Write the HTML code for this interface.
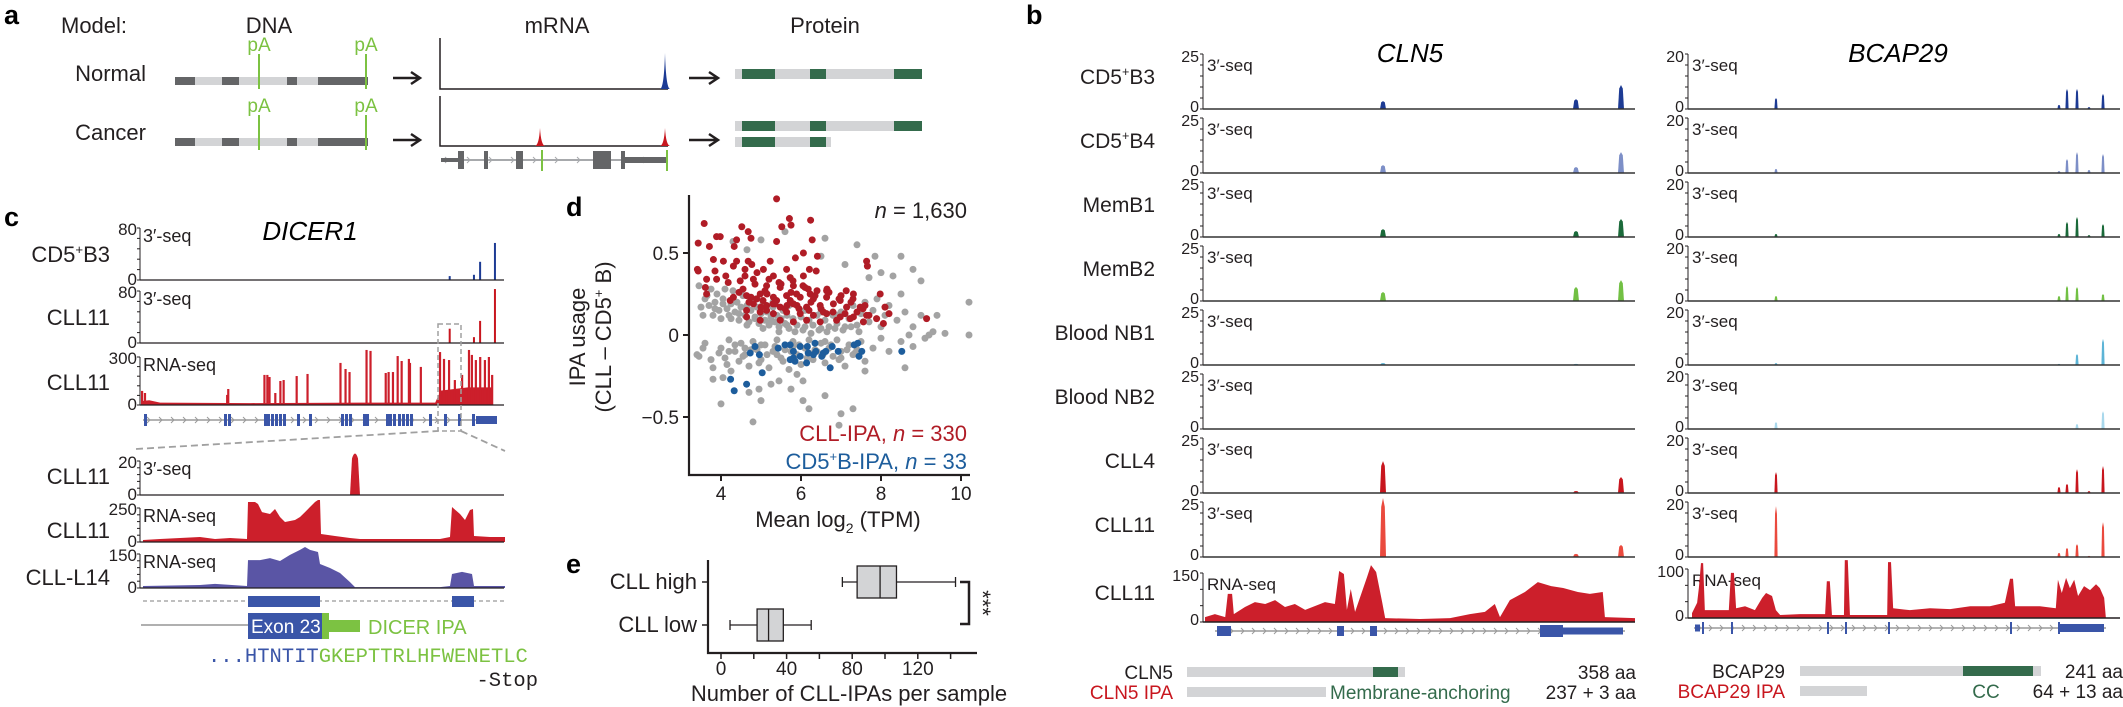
<!DOCTYPE html>
<html><head><meta charset="utf-8"><title>IPA figure</title>
<style>
html,body{margin:0;padding:0;background:#fff;}
svg{display:block;font-family:"Liberation Sans",Arial,sans-serif;}
</style></head>
<body>
<svg id="fig" width="2123" height="707" viewBox="0 0 2123 707" xmlns="http://www.w3.org/2000/svg">
<text x="4" y="24" font-size="27" font-weight="bold">a</text>
<text x="1026" y="24" font-size="27" font-weight="bold">b</text>
<text x="4" y="226" font-size="27" font-weight="bold">c</text>
<text x="566" y="216" font-size="27" font-weight="bold">d</text>
<text x="566" y="573" font-size="27" font-weight="bold">e</text>

<g font-size="22" fill="#231f20">
<text x="61" y="33">Model:</text>
<text x="269" y="33" text-anchor="middle">DNA</text>
<text x="557" y="33" text-anchor="middle">mRNA</text>
<text x="825" y="33" text-anchor="middle">Protein</text>
<text x="146" y="81" text-anchor="end">Normal</text>
<text x="146" y="140" text-anchor="end">Cancer</text>
</g>
<g id="panelA"></g>

<text x="1410" y="62" font-size="26" font-style="italic" text-anchor="middle">CLN5</text>
<text x="1898" y="62" font-size="26" font-style="italic" text-anchor="middle">BCAP29</text>
<g id="panelB"></g>

<text x="310" y="240" font-size="26" font-style="italic" text-anchor="middle">DICER1</text>
<g id="panelC"></g>

<g id="panelD"></g>
<g id="panelE"></g>
</svg>

<script>
// ================= DATA =================
const redX=[5.39,3.58,5.71,5.75,6.24,4.52,4.68,5.52,3.43,3.71,3.89,3.98,4.39,4.75,4.33,5.39,6.28,6.06,6.41,7.64,7.66,3.41,3.43,3.64,3.61,3.81,4.06,4.39,4.68,4.77,5.23,5.86,6.21,5.64,3.85,4.12,4.31,4.60,5.06,5.31,5.73,6.06,6.38,3.89,4.18,4.48,4.81,5.14,5.48,5.81,6.18,6.64,7.13,7.31,7.98,3.64,4.31,4.64,4.98,5.31,5.64,5.98,6.31,6.64,6.98,4.23,4.81,5.14,5.48,5.81,6.14,6.48,6.81,7.14,7.48,8.10,4.64,4.98,5.31,5.64,5.98,6.31,6.64,6.98,7.31,7.64,7.89,8.2,9.14,5.48,5.81,6.14,6.48,6.89,7.23,7.56,8.06,4.98,4.64,4.89,5.1,5.39,5.73,5.89,6.23,6.56,5.14];
const redY=[0.83,0.68,0.71,0.67,0.70,0.66,0.63,0.66,0.56,0.54,0.60,0.60,0.58,0.59,0.54,0.57,0.58,0.50,0.48,0.45,0.42,0.40,0.39,0.34,0.29,0.46,0.45,0.45,0.45,0.43,0.45,0.47,0.40,0.40,0.39,0.36,0.42,0.40,0.40,0.36,0.35,0.36,0.39,0.34,0.32,0.33,0.34,0.30,0.29,0.30,0.28,0.27,0.27,0.25,0.25,0.25,0.23,0.24,0.25,0.23,0.24,0.23,0.22,0.23,0.21,0.21,0.19,0.18,0.17,0.19,0.17,0.18,0.19,0.17,0.17,0.17,0.15,0.14,0.13,0.14,0.13,0.12,0.13,0.11,0.11,0.12,0.10,0.13,0.10,0.09,0.08,0.09,0.08,0.09,0.10,0.08,0.07,0.09,0.11,0.22,0.27,0.21,0.21,0.25,0.25,0.14,0.15];
const redX2=[4.55,4.7,4.85,5.0,5.15,5.3,5.45,5.6,5.75,5.9,6.05,6.2,6.35,6.5,6.65,6.8,6.95,7.1,7.25,7.4,7.55,7.7,4.6,4.9,5.2,5.5,5.8,6.1,6.4,6.7,7.0,7.3,7.6,4.45,4.75,5.05,5.35,5.65,5.95,6.25];
const redY2=[0.28,0.20,0.31,0.17,0.25,0.19,0.32,0.16,0.26,0.18,0.30,0.15,0.24,0.16,0.28,0.14,0.22,0.13,0.20,0.14,0.16,0.12,0.36,0.38,0.34,0.31,0.33,0.29,0.27,0.26,0.24,0.22,0.18,0.26,0.23,0.21,0.19,0.18,0.16,0.20];
const blueX=[4.24,4.33,4.64,4.73,4.96,5.03,5.6,5.73,5.81,5.85,5.98,6.14,6.16,6.18,6.35,6.37,6.52,6.56,6.62,6.73,6.78,6.93,7.33,7.42,7.45,7.52,8.52,5.73,5.98,5.43,4.85,6.31,5.81];
const blueY=[-0.27,-0.34,-0.30,-0.11,-0.12,-0.23,-0.06,-0.06,-0.14,-0.16,-0.13,-0.17,-0.07,-0.11,-0.05,-0.10,-0.13,-0.11,-0.10,-0.20,-0.07,-0.10,-0.06,-0.05,-0.13,-0.10,-0.10,-0.15,-0.07,-0.08,-0.07,-0.12,-0.10];
const grayX=[3.45,3.5,3.55,3.6,3.7,3.75,3.8,3.85,3.9,3.95,4.0,4.05,4.1,4.15,4.2,4.25,4.3,4.35,4.4,4.45,4.5,4.55,4.6,4.65,4.7,4.75,4.8,4.85,4.9,4.95,5.0,5.05,5.1,5.15,5.2,5.25,5.3,5.35,5.4,5.45,5.5,5.55,5.6,5.65,5.7,5.8,5.9,6.0,6.1,6.2,6.3,6.4,6.5,6.6,6.7,6.8,6.9,7.0,7.1,7.2,7.3,7.4,7.5,7.6,7.7,7.8,7.9,8.0,8.1,8.2,8.4,8.6,8.8,9.0,9.3,9.6,10.2,10.2,
4.3,4.65,5.0,5.6,6.6,7.4,7.85,8.5,8.8,8.3,9.0,8.5,7.1,6.5,7.7,9.4,8.7,8.0,
3.4,3.6,3.8,4.0,4.1,4.2,4.25,4.35,4.45,4.5,4.6,4.7,4.8,4.9,5.0,5.1,5.2,5.3,5.4,5.5,5.6,5.7,5.8,5.9,6.0,6.1,6.2,6.3,6.4,6.5,6.6,6.7,6.8,6.9,7.0,7.1,7.2,7.3,7.5,7.6,7.8,8.0,8.2,8.5,8.8,9.2,4.05,5.25,6.05,
3.45,3.8,4.0,4.95,5.45,5.0,5.75,6.05,6.2,6.6,7.0,7.3,6.95,4.8,7.6,8.6,9.1,5.9,4.7,
4.5,4.9,5.3,5.7,6.1,6.5,6.9,4.2,4.6,5.0,5.4,5.8,6.2,6.6,7.0,7.4];
const grayY=[0.30,0.17,0.12,0.22,0.18,0.28,0.12,0.20,0.25,0.15,0.10,0.22,0.28,0.16,0.12,0.19,0.27,0.14,0.20,0.09,0.17,0.24,0.12,0.18,0.08,0.15,0.22,0.11,0.17,0.07,0.13,0.19,0.09,0.14,0.06,0.11,0.17,0.08,0.12,0.05,0.10,0.15,0.07,0.12,0.04,0.10,0.06,0.11,0.05,0.09,0.06,0.12,0.04,0.09,0.05,0.12,0.07,0.14,0.05,0.10,0.18,0.06,0.13,0.20,0.08,0.15,0.22,0.05,0.12,0.18,0.09,0.14,0.05,0.12,0.02,0.01,0.20,0.00,
0.57,0.52,0.58,0.63,0.59,0.55,0.48,0.48,0.40,0.36,0.33,0.25,0.43,0.48,0.35,0.12,0.00,0.38,
-0.12,-0.05,-0.20,-0.08,-0.14,-0.03,-0.22,-0.10,-0.16,-0.05,-0.12,-0.19,-0.04,-0.09,-0.15,-0.06,-0.20,-0.10,-0.03,-0.14,-0.09,-0.21,-0.04,-0.12,-0.18,-0.08,-0.03,-0.15,-0.10,-0.05,-0.17,-0.08,-0.13,-0.03,-0.10,-0.19,-0.06,-0.12,-0.04,-0.16,-0.08,-0.02,-0.10,-0.04,-0.07,0.00,-0.26,-0.30,-0.28,
-0.13,-0.27,-0.42,-0.33,-0.28,-0.40,-0.33,-0.40,-0.45,-0.37,-0.48,-0.45,-0.55,-0.53,-0.22,-0.20,-0.02,-0.24,-0.35,
0.26,0.22,0.20,0.18,0.15,0.14,0.12,-0.10,-0.08,-0.06,-0.12,-0.07,-0.11,-0.04,-0.14,-0.09];
const grayX2=[3.55,3.75,3.95,4.15,4.35,4.55,4.75,4.95,5.15,5.35,5.55,5.75,5.95,6.15,6.35,6.55,6.75,6.95,7.15,7.35,3.65,3.85,4.05,4.25,4.45,4.65,4.85,5.05,5.25,5.45,5.65,5.85,6.05,6.25,6.45,6.65,6.85,7.05,7.25,7.45];
const grayY2=[-0.08,-0.15,-0.11,-0.18,-0.06,-0.13,-0.09,-0.17,-0.12,-0.07,-0.16,-0.10,-0.06,-0.14,-0.09,-0.12,-0.06,-0.15,-0.09,-0.11,0.24,0.16,0.19,0.10,0.13,0.06,0.10,0.04,0.08,0.02,0.06,0.02,0.03,0.01,0.03,0.02,0.04,0.03,0.05,0.02];
const dXTicks=[4,6,8,10];
const dYTicks=[0.5,0,-0.5];
const dYTickLabels=['0.5','0','\u22120.5'];

const eCategories=['CLL high','CLL low'];
const eWhiskerLo=[74,5.5];
const eQ1=[83,22];
const eMedian=[97,29];
const eQ3=[107,38];
const eWhiskerHi=[143,55];
const eTicks=[0,20,40,60,80,100,120,140];
const eTickLabels=['0','','40','','80','','120',''];

const bSamples=['CD5+B3','CD5+B4','MemB1','MemB2','Blood NB1','Blood NB2','CLL4','CLL11'];
const cln5PeakPos=[178,371,416];
const cln5Heights=[[3.6,4.5,10.9],[3.6,2.7,9.5],[3.6,2.7,8.2],[4.1,6.4,9.5],[0.9,0.5,0.2],[0.2,0.2,0.2],[14.5,0.9,7.3],[26.8,1.4,5.5]];
const bcapPeakPos=[84,367,375,385,397,411];
const bcapHeights=[[4,1.5,7.3,7.3,0.7,5.5],[1.5,0.7,5.1,7.6,1.1,6.9],[1.1,1.1,5.5,7.3,0.7,4.7],[1.8,1.8,5.5,5.1,0,2.5],[0.7,0.4,0,4,0,9.5],[2.5,0,0,1.8,0,6.5],[7.6,2.2,3.3,8.7,0.7,9.8],[18.5,1.5,3.3,4.7,0.4,12.7]];
const cln5CovPos=[0,2.3,4.7,5.3,6.3,6.7,9.3,11.6,14,16.3,18.6,20.9,23.3,25.6,27.9,30.2,31.2,32.3,33,33.9,34.9,37.7,38.6,39.8,41.2,41.9,50,57,61.6,65.1,67.4,68.6,70.9,74.4,77.4,80.5,83.3,86.7,89.5,92.5,93,100];
const cln5CovVal=[15,24,15,86,86,24,46,61,55,67,46,55,37,49,61,55,156,147,37,101,31,138,174,153,61,12,9,12,24,31,55,15,67,92,122,110,104,92,86,92,15,12];
const bcapCovPos=[0,1.2,1.6,2.1,2.6,3.0,5.4,8.6,9.1,9.8,10.3,12.4,14.7,16.4,17.3,18.7,19.6,20.6,25.2,31.1,31.5,32.2,32.7,35.5,35.7,36.4,36.9,39.3,45.6,45.8,46.5,47.0,50.9,55.6,60.3,65.0,69.6,73.1,74.3,75.0,75.5,81.3,85.0,85.5,86.4,87.4,88.3,89.3,90.2,91.6,93.0,94.4,95.3,96.3,96.7,100];
const bcapCovVal=[10,31,61,112,112,16,16,16,92,92,20,24,16,41,51,45,16,6,8,8,75,75,6,6,118,118,6,6,6,114,114,20,16,20,18,24,24,31,80,80,24,24,20,78,51,82,61,78,45,65,57,69,61,41,0,0];

const dicerCd5Pos=[85.0,91.7,93.4,97.5];
const dicerCd5Val=[6,8,28,57];
const dicerCll11Val=[22,9,34,83];
const dicerSpikePos=[0,0.8,23.5,23.8,33.8,34.6,35.2,36.8,38.2,39.1,42.7,45.7,54.8,56.2,57.3,62.0,63.1,67.3,68.1,69.3,70.6,71.7,73.7,74.0,77.0,82.3,83.4,84.8,86.4,88.4,90.3,91.1,92.2,93.4,94.7,95.8,96.7];
const dicerSpikeVal=[88,75,63,100,188,188,175,75,150,156,181,194,263,225,206,344,338,200,206,206,306,275,288,263,238,331,288,281,156,188,344,313,281,300,281,300,188];
const dicerBgPos=[0,2,5,30,60,81,82.5,90,96.5,97,100];
const dicerBgVal=[25,30,15,12,15,15,90,110,110,0,0];
const zoomCllPos=[0,17,37,57,72,87,104,105,112,115,119,127,132,137,142,152,157,162,167,172,175,177,178,192,207,217,257,297,307,309,317,322,327,330,331,347,362];
const zoomCllVal=[15,22,29,37,22,29,22,294,294,279,220,206,243,184,147,162,184,220,257,294,309,309,59,44,29,22,22,22,37,257,206,162,235,243,44,37,37];
const zoomL14Pos=[0,57,72,104,105,117,127,137,147,157,162,167,175,177,187,197,207,212,257,297,307,309,319,329,331,362];
const zoomL14Val=[9,13,18,9,123,123,132,119,146,168,181,168,159,106,88,66,26,4,4,4,9,62,71,62,9,9];
const zoomPeakPos=212;
const zoomPeakVal=25;

// ================= HELPERS =================
const NS='http://www.w3.org/2000/svg';
function mk(tag,attrs,parent){const e=document.createElementNS(NS,tag);for(const k in attrs)e.setAttribute(k,attrs[k]);parent.appendChild(e);return e;}
function txt(x,y,s,attrs,parent){const e=mk('text',Object.assign({x:x,y:y},attrs),parent);e.textContent=s;return e;}
function supLabel(x,y,s,attrs,parent){
  const e=mk('text',Object.assign({x:x,y:y},attrs),parent);
  const parts=s.split('+');
  parts.forEach((p,i)=>{
    if(i>0){const t=mk('tspan',{dy:-8,'font-size':'0.6em'},e);t.textContent='+';const t2=mk('tspan',{dy:8},e);t2.textContent=p;}
    else{const t=mk('tspan',{},e);t.textContent=p;}
  });
  return e;
}
function chevrons(x0,x1,y,step,parent,color){
  let d='';for(let x=x0+6;x<x1-4;x+=step){d+=`M${x-2},${y-3}L${x+1},${y}L${x-2},${y+3}`;}
  return mk('path',{d:d,stroke:color||'#9a9a9a','stroke-width':1,fill:'none'},parent);
}

// ================= PANEL A =================
(function(){
  const g=document.getElementById('panelA');
  const dark='#646567',light='#d3d4d6',green='#7cc242',pg='#346b4c';
  const dnaSegs=[[175,195,dark],[195,222,light],[222,239,dark],[239,287,light],[287,297,dark],[297,318,light],[318,368,dark]];
  [81,142].forEach((cy,ri)=>{
    dnaSegs.forEach(s=>{const r=mk('rect',{x:s[0],y:cy-4,width:s[1]-s[0],height:8,fill:s[2]},g);
      
      });
    [259,366].forEach(px=>{
      const l=mk('line',{x1:px,x2:px,y1:cy-27,y2:cy+8,stroke:green,'stroke-width':2},g);
      
      
      const t=txt(px,cy-30,'pA',{fill:green,'font-size':19,'text-anchor':'middle'},g);
      
      
    });
  });
  [[393,420,78],[393,420,140],[689,718,78],[689,718,140]].forEach(a=>{
    const p=mk('path',{d:`M${a[0]},${a[2]}L${a[1]-2},${a[2]}M${a[1]-9},${a[2]-6}L${a[1]},${a[2]}L${a[1]-9},${a[2]+6}`,stroke:'#231f20','stroke-width':2.5,fill:'none'},g);
    
    
  });
  const mN=mk('path',{d:'M440,38L440,89L668,89',stroke:'#231f20','stroke-width':1.5,fill:'none'},g);
  
  
  const pk1=mk('path',{d:'M660,89Q664,88 665,53Q666,88 670,89Z',fill:'#1d3b94'},g);
  
  
  const mC=mk('path',{d:'M440,96L440,146L668,146',stroke:'#231f20','stroke-width':1.5,fill:'none'},g);
  
  
  [540,665].forEach(px=>{const p=mk('path',{d:`M${px-5},146Q${px-1},145 ${px},128Q${px+1},145 ${px+5},146Z`,fill:'#c8161e'},g);
    
    });
  const gl=mk('line',{x1:441,x2:668,y1:160,y2:160,stroke:'#a7a9ac','stroke-width':2},g);
  
  
  chevrons(441,668,160,22,g,'#a7a9ac');
  [[441,458,4],[458,464,18],[484,488,18],[516,523,18],[593,611,18],[621,625,18],[625,667,6]].forEach(e=>{
    const r=mk('rect',{x:e[0],y:160-e[2]/2,width:e[1]-e[0],height:e[2],fill:dark},g);
    
    });
  [542,667].forEach(px=>{const l=mk('line',{x1:px,x2:px,y1:150,y2:171,stroke:green,'stroke-width':2},g);
    
    });
  const full=[[735,742,light],[742,775,pg],[775,810,light],[810,826,pg],[826,894,light],[894,922,pg]];
  const trunc=[[735,742,light],[742,775,pg],[775,810,light],[810,826,pg],[826,831,light]];
  [[74,full],[126,full],[142,trunc]].forEach(row=>{
    row[1].forEach(s=>{const r=mk('rect',{x:s[0],y:row[0]-5,width:s[1]-s[0],height:10,fill:s[2]},g);
      
      });
  });
})();

// ================= PANEL B =================
(function(){
  const g=document.getElementById('panelB');
  const colors=['#1d3b94','#7d8fc7','#1b6a3a','#72c044','#5db4d6','#a9d8ec','#c8161e','#ea4a3e'];
  const genes=[
    {name:'cln5',axis:1203,x0:1205,x1:1635,dom:430,max:25,pos:cln5PeakPos,h:cln5Heights,w:3,covPos:cln5CovPos,covVal:cln5CovVal,covMax:150,covLabel:'150'},
    {name:'bcap29',axis:1688,x0:1692,x1:2120,dom:428,max:20,pos:bcapPeakPos,h:bcapHeights,w:1.6,covPos:bcapCovPos,covVal:bcapCovVal,covMax:100,covLabel:'100'}
  ];
  bSamples.forEach((s,i)=>{
    const base=109+64*i;
    const lab=supLabel(1155,base-25,s,{'font-size':21,'text-anchor':'end',fill:'#231f20'},g);
    
    
  });
  const rl=txt(1155,600,'CLL11',{'font-size':21,'text-anchor':'end',fill:'#231f20'},g);
  
  
  genes.forEach(G=>{
    const xs=v=>G.x0+v/G.dom*(G.x1-G.x0);
    bSamples.forEach((s,i)=>{
      const base=109+64*i, top=base-55;
      const ys=v=>base-v/G.max*55;
      const ax=mk('line',{x1:G.axis,x2:G.axis,y1:top,y2:base,stroke:'#231f20','stroke-width':1},g);
      
      
      for(let k=0;k<=5;k++){const tk=mk('line',{x1:G.axis-3,x2:G.axis,y1:top+k*11,y2:top+k*11,stroke:'#231f20','stroke-width':1},g);
        
        }
      const t1=txt(G.axis-4,top+8,String(G.max),{'font-size':16,'text-anchor':'end',fill:'#231f20'},g);
      
      
      const t0=txt(G.axis-4,base+3,'0',{'font-size':16,'text-anchor':'end',fill:'#231f20'},g);
      
      
      const tl=txt(G.axis+4,top+17,'3\u2032-seq',{'font-size':17,fill:'#231f20'},g);
      
      
      G.pos.forEach((p,j)=>{
        const v=G.h[i][j]; if(v<=0) return;
        const x=xs(p), y=ys(v), w=G.w;
        const pk=mk('path',{d:`M${x-w},${base}L${x-w*0.6},${y+(base-y)*0.15}L${x},${y}L${x+w*0.6},${y+(base-y)*0.15}L${x+w},${base}Z`,fill:colors[i]},g);
        
        
      });
      const bl=mk('line',{x1:G.axis,x2:G.x1,y1:base,y2:base,stroke:'#333','stroke-width':1.5},g);
      
      
    });
    const base=G.name==='cln5'?622:618, top=base-49;
    const ys=v=>base-v/G.covMax*49;
    const ax=mk('line',{x1:G.axis,x2:G.axis,y1:top,y2:base,stroke:'#231f20','stroke-width':1},g);
    
    
    for(let k=0;k<=3;k++){const tk=mk('line',{x1:G.axis-3,x2:G.axis,y1:top+k*49/3,y2:top+k*49/3,stroke:'#231f20'},g);
      
      }
    const tm=txt(G.axis-4,top+8,G.covLabel,{'font-size':16,'text-anchor':'end',fill:'#231f20'},g);
    
    
    const tz=txt(G.axis-4,base+3,'0',{'font-size':16,'text-anchor':'end',fill:'#231f20'},g);
    
    
    const tt=txt(G.axis+4,top+17,'RNA-seq',{'font-size':17,fill:'#231f20'},g);
    
    
    const cx=v=>G.x0+v/100*(G.x1-G.x0);
    let d=`M${cx(G.covPos[0])},${base}`;
    G.covPos.forEach((p,k)=>{d+=`L${cx(p)},${ys(G.covVal[k])}`;});
    d+=`L${cx(G.covPos[G.covPos.length-1])},${base}Z`;
    const cov=mk('path',{d:d,fill:'#cc1f2b'},g);
    
    
    const bl=mk('line',{x1:G.axis,x2:G.x1,y1:base,y2:base,stroke:'#231f20','stroke-width':1.5},g);
    
    
  });
  const blue='#3a55a8';
  const gm1=mk('line',{x1:1215,x2:1625,y1:631,y2:631,stroke:'#9a9a9a','stroke-width':1.5},g);
  
  
  chevrons(1215,1545,631,11,g);
  [[1217,1231,10],[1337,1344,10],[1370,1377,10],[1540,1563,12],[1563,1623,7]].forEach(e=>{
    const r=mk('rect',{x:e[0],y:631-e[2]/2,width:e[1]-e[0],height:e[2],fill:blue},g);
    
    });
  const gm2=mk('line',{x1:1694,x2:2106,y1:628,y2:628,stroke:'#9a9a9a','stroke-width':1.5},g);
  
  
  chevrons(1694,2058,628,11,g);
  [[1695,1700,7],[1702,1704,12],[1731,1733,12],[1827,1829,12],[1845,1847,12],[1888,1890,12],[2010,2012,12],[2058,2060,12],[2060,2104,8]].forEach(e=>{
    const r=mk('rect',{x:e[0],y:628-e[2]/2,width:e[1]-e[0],height:e[2],fill:blue},g);
    
    });
  const light='#d3d4d6',pg='#346b4c';
  const bars=[[1187,1405,672,light,'cln5-protein'],[1373,1398,672,pg,'cln5-domain'],[1187,1326,692,light,'cln5-ipa-protein'],
              [1800,2041,671,light,'bcap29-protein'],[1963,2033,671,pg,'bcap29-domain'],[1800,1867,691,light,'bcap29-ipa-protein']];
  bars.forEach(b=>{const r=mk('rect',{x:b[0],y:b[2]-5,width:b[1]-b[0],height:10,fill:b[3]},g);
    
    });
  const labels=[[1173,679,'CLN5','#231f20','end','cln5-protein-label'],[1173,699,'CLN5 IPA','#c8161e','end','cln5-ipa-label'],
    [1330,699,'Membrane-anchoring','#346b4c','start','membrane-anchoring-label'],[1636,679,'358 aa','#231f20','end','cln5-length'],[1636,699,'237 + 3 aa','#231f20','end','cln5-ipa-length'],
    [1785,678,'BCAP29','#231f20','end','bcap29-protein-label'],[1785,698,'BCAP29 IPA','#c8161e','end','bcap29-ipa-label'],
    [1986,698,'CC','#346b4c','middle','cc-domain-label'],[2123,678,'241 aa','#231f20','end','bcap29-length'],[2123,698,'64 + 13 aa','#231f20','end','bcap29-ipa-length']];
  labels.forEach(l=>{const t=txt(l[0],l[1],l[2],{'font-size':19,fill:l[3],'text-anchor':l[4]},g);
    
    });
})();

// ================= PANEL C =================
(function(){
  const g=document.getElementById('panelC');
  const AX=140, X0=142, X1=504;
  const xs=p=>X0+p/100*(X1-X0);
  function trackAxis(top,base,maxLabel,type,nm){
    const a=mk('line',{x1:AX,x2:AX,y1:top,y2:base,stroke:'#231f20'},g);
    
    
    for(let k=0;k<=5;k++){const tk=mk('line',{x1:AX-3,x2:AX,y1:top+k*(base-top)/5,y2:top+k*(base-top)/5,stroke:'#231f20'},g);
      
      }
    const t1=txt(AX-3,top+7,maxLabel,{'font-size':17,'text-anchor':'end',fill:'#231f20'},g);
    
    
    const t0=txt(AX-3,base+5,'0',{'font-size':17,'text-anchor':'end',fill:'#231f20'},g);
    
    
    const tt=txt(AX+3,top+14,type,{'font-size':18,fill:'#231f20'},g);
    
    
  }
  function baseline(base,x0,x1,nm){const l=mk('line',{x1:x0,x2:x1,y1:base,y2:base,stroke:'#231f20','stroke-width':1.3},g);
    
    }
  const rowLabels=[[110,262,'CD5+B3'],[110,325,'CLL11'],[110,390,'CLL11'],[110,484,'CLL11'],[110,538,'CLL11'],[110,585,'CLL-L14']];
  rowLabels.forEach(r=>{const t=supLabel(r[0],r[1],r[2],{'font-size':22,'text-anchor':'end',fill:'#231f20'},g);
    
    });
  [[228,280,dicerCd5Val,'#1d3b94','dicer-cd5b3'],[291,343,dicerCll11Val,'#c8161e','dicer-cll11-3seq']].forEach(T=>{
    trackAxis(T[0],T[1],'80',"3\u2032-seq",T[4]);
    dicerCd5Pos.forEach((p,j)=>{
      const x=xs(p), y=T[1]-T[2][j]/80*(T[1]-T[0]);
      const r=mk('rect',{x:x-1,y:y,width:2,height:T[1]-y,fill:T[3]},g);
      
      });
    baseline(T[1],AX,X1,T[4]);
  });
  const rb=405, rt=357;
  trackAxis(rt,rb,'300','RNA-seq','dicer-rnaseq');
  const ys=v=>rb-v/300*(rb-rt);
  let d=`M${xs(dicerBgPos[0])},${rb}`;
  dicerBgPos.forEach((p,k)=>{d+=`L${xs(p)},${ys(dicerBgVal[k])}`;});
  d+='Z';
  const bg=mk('path',{d:d,fill:'#cc1f2b'},g);
  
  
  dicerSpikePos.forEach((p,k)=>{
    const y=ys(dicerSpikeVal[k]);
    const r=mk('rect',{x:xs(p)-1,y:y,width:2.2,height:rb-y,fill:'#cc1f2b'},g);
    
    });
  baseline(rb,AX,X1,'dicer-rnaseq');
  const gm=mk('line',{x1:143,x2:497,y1:420,y2:420,stroke:'#9a9a9a','stroke-width':1.5},g);
  
  
  chevrons(143,476,420,12,g);
  [144,224,228,264,267,271,275,279,283,297,309,341,345,349,363,366,386,389,393,398,402,406,410,429,444,458,472].forEach(x=>{
    const r=mk('rect',{x:x,y:414,width:3,height:12,fill:'#3a55a8'},g);
    
    });
  const te=mk('rect',{x:476,y:416,width:21,height:8,fill:'#3a55a8'},g);
  
  
  const box=mk('rect',{x:438,y:324,width:23,height:107,fill:'none',stroke:'#a0a0a0','stroke-width':1.5,'stroke-dasharray':'5 3'},g);
  
  
  const zl=mk('path',{d:'M136,449L438,431M461,431L505,451',stroke:'#a0a0a0','stroke-width':1.8,fill:'none','stroke-dasharray':'7 4'},g);
  
  
  const zx=p=>143+p;
  trackAxis(461,495,'20',"3\u2032-seq",'zoom-3seq');
  {const x=zx(zoomPeakPos), y=495-zoomPeakVal/20*34;
   const pk=mk('path',{d:`M${x-5},495L${x-3},${y+6}Q${x},${y-4} ${x+3},${y+6}L${x+5},495Z`,fill:'#cc1f2b'},g);
   
   }
  baseline(495,AX,X1,'zoom-3seq');
  [[508,542,'250',250,zoomCllPos,zoomCllVal,'#cc1f2b','zoom-cll11-rnaseq'],[554,588,'150',150,zoomL14Pos,zoomL14Val,'#5a55a5','zoom-cll-l14-rnaseq']].forEach(T=>{
    trackAxis(T[0],T[1],T[2],'RNA-seq',T[7]);
    let d=`M${zx(T[4][0])},${T[1]}`;
    T[4].forEach((p,k)=>{d+=`L${zx(p)},${T[1]-T[5][k]/T[3]*(T[1]-T[0])}`;});
    d+=`L${zx(T[4][T[4].length-1])},${T[1]}Z`;
    const c=mk('path',{d:d,fill:T[6]},g);
    
    
    baseline(T[1],AX,X1,T[7]);
  });
  const zg=mk('line',{x1:143,x2:504,y1:601,y2:601,stroke:'#aaa','stroke-width':1.5,'stroke-dasharray':'4 3'},g);
  
  
  [[248,320],[452,474]].forEach(e=>{const r=mk('rect',{x:e[0],y:596,width:e[1]-e[0],height:11,fill:'#3a55a8'},g);
    
    });
  const ln=mk('line',{x1:141,x2:248,y1:625,y2:625,stroke:'#b0b0b0','stroke-width':2},g);
  
  
  const ex=mk('rect',{x:248,y:613,width:74,height:26,fill:'#3a55a8'},g);
  
  
  const gx=mk('rect',{x:322,y:613,width:7,height:26,fill:'#7cc242'},g);
  
  
  const gb=mk('rect',{x:329,y:620,width:31,height:12,fill:'#7cc242'},g);
  
  
  const et=txt(251,633,'Exon 23',{'font-size':19,fill:'#fff'},g);
  
  
  const dt=txt(368,634,'DICER IPA',{'font-size':20,fill:'#7cc242'},g);
  
  
  const sq=mk('text',{x:208,y:662,'font-family':'Liberation Mono, monospace','font-size':20.5},g);
  
  
  const s1=mk('tspan',{fill:'#3a55a8'},sq); s1.textContent='...HTNTIT';
  const s2=mk('tspan',{fill:'#7cc242'},sq); s2.textContent='GKEPTTRLHFWENETLC';
  const st=txt(538,686,'-Stop',{'font-family':'Liberation Mono, monospace','font-size':20.5,'text-anchor':'end',fill:'#231f20'},g);
  
  
})();

// ================= PANEL D =================
(function(){
  const g=document.getElementById('panelD');
  const X=v=>721+(v-4)*40, Y=v=>335-v*164;
  const ax=mk('path',{d:'M689,195L689,475L970,475',stroke:'#231f20','stroke-width':2.2,fill:'none'},g);
  
  
  dXTicks.forEach(v=>{
    const t=mk('line',{x1:X(v),x2:X(v),y1:475,y2:481,stroke:'#231f20','stroke-width':2},g);
    
    
    const l=txt(X(v),500,String(v),{'font-size':19,'text-anchor':'middle',fill:'#231f20'},g);
    
    
  });
  dYTicks.forEach((v,i)=>{
    const t=mk('line',{x1:683,x2:689,y1:Y(v),y2:Y(v),stroke:'#231f20','stroke-width':2},g);
    
    
    const l=txt(679,Y(v)+7,dYTickLabels[i],{'font-size':19,'text-anchor':'end',fill:'#231f20'},g);
    
    
  });
  function dots(xa,ya,col,nm){xa.forEach((x,i)=>{
    const c=mk('circle',{cx:X(x),cy:Y(ya[i]),r:3.5,fill:col},g);
    
    });}
  dots(grayX,grayY,'#a3a3a3','ipa-point');
  dots(grayX2,grayY2,'#a3a3a3','ipa-point');
  dots(redX,redY,'#b01c26','cll-ipa-point');
  dots(redX2,redY2,'#b01c26','cll-ipa-point');
  dots(blueX,blueY,'#1d5d9c','cd5b-ipa-point');
  const xl=mk('text',{x:838,y:527,'font-size':22,'text-anchor':'middle',fill:'#231f20'},g);
  
  
  xl.innerHTML='Mean log<tspan dy="6" font-size="14">2</tspan><tspan dy="-6"> (TPM)</tspan>';
  const yl=mk('text',{transform:'translate(585,337) rotate(-90)','font-size':22,'text-anchor':'middle',fill:'#231f20'},g);
  
  
  yl.textContent='IPA usage';
  const yl2=mk('text',{transform:'translate(611,337) rotate(-90)','font-size':22,'text-anchor':'middle',fill:'#231f20'},g);
  
  
  yl2.innerHTML='(CLL \u2013 CD5<tspan dy="-8" font-size="13">+</tspan><tspan dy="8"> B)</tspan>';
  const n=mk('text',{x:967,y:218,'font-size':22,'text-anchor':'end',fill:'#231f20'},g);
  
  
  n.innerHTML='<tspan font-style="italic">n</tspan> = 1,630';
  const l1=mk('text',{x:967,y:441,'font-size':22,'text-anchor':'end',fill:'#b01c26'},g);
  
  
  l1.innerHTML='CLL-IPA, <tspan font-style="italic">n</tspan> = 330';
  const l2=mk('text',{x:967,y:469,'font-size':22,'text-anchor':'end',fill:'#1d5d9c'},g);
  
  
  l2.innerHTML='CD5<tspan dy="-8" font-size="13">+</tspan><tspan dy="8">B-IPA, </tspan><tspan font-style="italic">n</tspan> = 33';
})();

// ================= PANEL E =================
(function(){
  const g=document.getElementById('panelE');
  const X=v=>721+v*1.64;
  const Yc=[582,625];
  const ax=mk('path',{d:'M708,560L708,653L977,653',stroke:'#231f20','stroke-width':2.2,fill:'none'},g);
  
  
  eTicks.forEach((v,i)=>{
    const t=mk('line',{x1:X(v),x2:X(v),y1:653,y2:659,stroke:'#231f20','stroke-width':1.5},g);
    
    
    if(eTickLabels[i]){const l=txt(X(v),675,eTickLabels[i],{'font-size':19,'text-anchor':'middle',fill:'#231f20'},g);
      
      }
  });
  eCategories.forEach((c,i)=>{
    const y=Yc[i];
    const t=mk('line',{x1:702,x2:708,y1:y,y2:y,stroke:'#231f20','stroke-width':1.5},g);
    
    
    const l=txt(697,y+7,c,{'font-size':22,'text-anchor':'end',fill:'#231f20'},g);
    
    
    const w=mk('path',{d:`M${X(eWhiskerLo[i])},${y}L${X(eQ1[i])},${y}M${X(eQ3[i])},${y}L${X(eWhiskerHi[i])},${y}M${X(eWhiskerLo[i])},${y-5}L${X(eWhiskerLo[i])},${y+5}M${X(eWhiskerHi[i])},${y-5}L${X(eWhiskerHi[i])},${y+5}`,stroke:'#231f20','stroke-width':1.3,fill:'none'},g);
    
    
    const b=mk('rect',{x:X(eQ1[i]),y:y-16,width:X(eQ3[i])-X(eQ1[i]),height:32,fill:'#d3d4d6',stroke:'#231f20','stroke-width':1.3},g);
    
    
    const m=mk('line',{x1:X(eMedian[i]),x2:X(eMedian[i]),y1:y-16,y2:y+16,stroke:'#231f20','stroke-width':1.3},g);
    
    
  });
  const br=mk('path',{d:'M960,582L969,582L969,624L960,624',stroke:'#231f20','stroke-width':2.5,fill:'none'},g);
  
  
  const st=txt(0,0,'***',{transform:'translate(975,603) rotate(90)','font-size':22,'text-anchor':'middle',fill:'#231f20'},g);
  
  
  const xl=txt(849,701,'Number of CLL-IPAs per sample',{'font-size':22,'text-anchor':'middle',fill:'#231f20'},g);
  
  
})();
</script>
</body></html>
